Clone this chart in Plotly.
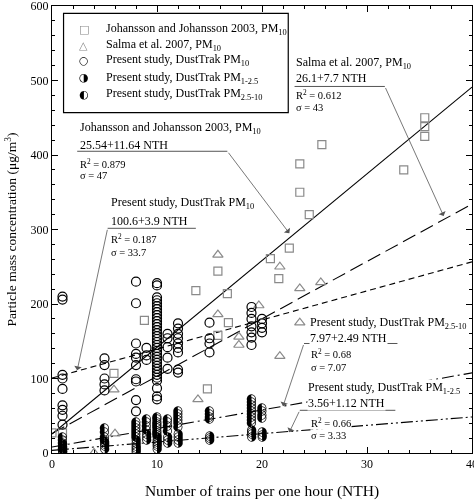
import plotly.graph_objects as go

FONT = "Liberation Serif"
GRAY = "#8a8a8a"

# Johansson and Johansson 2003, PM10 (open squares)
johansson_nth = [0, 1, 5.9, 8.8, 13.7, 14.8, 15.8, 15.8, 16.7, 16.8, 20.8, 21.6,
                 22.6, 23.6, 23.6, 24.5, 25.7, 33.5, 35.5, 35.5, 35.5]
johansson_pm = [27, 27, 107, 178, 218, 86, 244, 158, 214, 175, 261, 234,
                275, 350, 388, 320, 414, 380, 450, 438, 425]

# Salma et al. 2007, PM10 (open triangles)
salma_nth = [4, 5.9, 6, 13.9, 15.8, 15.8, 17.8, 17.8, 19.7, 21.7, 21.7, 23.6, 23.6, 25.6]
salma_pm = [0, 85, 26, 72, 266, 186, 156, 145, 198, 250, 130, 221, 175, 229]

# Present study, DustTrak - columns of values per NTH
study_nth = [1, 5, 8, 9, 10, 11, 12, 15, 19, 20]
pm10_values = [
    [210, 206, 105, 100, 86, 64, 58, 50, 38],
    [127, 118, 100, 92, 84],
    [230, 201, 147, 133, 128, 118, 99, 96, 71, 56],
    [141, 131, 125],
    [228, 225, 209, 205, 201, 197, 193, 189, 185, 181, 177, 173, 169, 165, 161, 157,
     153, 149, 145, 141, 137, 133, 129, 125, 121, 117, 113, 109, 105, 101, 97, 87, 76, 72],
    [160, 154, 142, 128, 113],
    [174, 167, 160, 154, 147, 141, 135, 112, 108],
    [175, 154, 147, 135],
    [196, 188, 180, 170, 162, 155, 145],
    [180, 174, 168, 162],
]
pm25_10_values = [
    [22, 17, 13, 9, 5],
    [34, 28, 22, 17],
    [42, 38, 34, 30, 26, 22],
    [46, 41, 36, 31],
    [48, 45, 42, 39, 36, 33, 30, 27, 24],
    [46, 41, 36, 30],
    [56, 52, 48, 44, 40, 35],
    [57, 53, 49, 45],
    [72, 68, 64, 60, 56, 52, 48, 44, 40],
    [60, 56, 51, 47],
]
pm1_25_values = [
    [12, 8, 5, 3, 1],
    [15, 12, 9, 6],
    [18, 14, 10, 7, 4, 1],
    [26, 21, 17],
    [21, 18, 15, 12, 9, 6],
    [22, 17, 13],
    [26, 21, 17, 13],
    [23, 20, 17],
    [31, 28, 25, 22],
    [28, 24, 21],
]

# fitted lines: intercept + slope * NTH
fit_names = ["Johansson", "Salma", "PM10", "PM2.5-10", "PM1-2.5"]
fit_intercept = [25.54, 26.1, 100.6, 7.97, 3.56]
fit_slope = [11.64, 7.7, 3.9, 2.49, 1.12]
fit_dash = ["solid", "14px,6px", "6px,4px", "12px,4px,2px,4px", "12px,3px,2px,3px,2px,3px"]
nth_range = [0, 40]


def flatten(xs, cols):
    fx, fy = [], []
    for x, col in zip(xs, cols):
        for v in col:
            fx.append(x)
            fy.append(v)
    return fx, fy


fig = go.Figure()

for name, a, b, dash in zip(fit_names, fit_intercept, fit_slope, fit_dash):
    fig.add_trace(go.Scatter(x=nth_range, y=[a + b * x for x in nth_range], mode="lines",
                             name=name, line=dict(color="black", width=1.1, dash=dash)))

fig.add_trace(go.Scatter(x=johansson_nth, y=johansson_pm, mode="markers",
                         marker=dict(symbol="square-open", size=8, color=GRAY, line=dict(width=1.2))))
fig.add_trace(go.Scatter(x=salma_nth, y=salma_pm, mode="markers",
                         marker=dict(symbol="triangle-up-open", size=9, color=GRAY, line=dict(width=1.2))))

x10, y10 = flatten(study_nth, pm10_values)
fig.add_trace(go.Scatter(x=x10, y=y10, mode="markers",
                         marker=dict(symbol="circle-open", size=9, color="black", line=dict(width=1.2))))

# half-filled circles drawn as glyphs
xc, yc = flatten(study_nth, pm25_10_values)
fig.add_trace(go.Scatter(x=xc, y=yc, mode="text", text=["\u25d0"] * len(xc),
                         textfont=dict(family="DejaVu Sans", size=12, color="black")))
xf, yf = flatten(study_nth, pm1_25_values)
fig.add_trace(go.Scatter(x=xf, y=yf, mode="text", text=["\u25d1"] * len(xf),
                         textfont=dict(family="DejaVu Sans", size=12, color="black")))

annotations = []
shapes = []


def label(x, y, text, size=12, bg=None):
    annotations.append(dict(x=x, y=y, xref="x", yref="y", text=text, showarrow=False,
                            xanchor="left", yanchor="middle", borderpad=0,
                            bgcolor=bg if bg else "rgba(0,0,0,0)",
                            font=dict(family=FONT, size=size, color="black")))


def leader(x0, x1, y, tipx, tipy, start_left=False):
    shapes.append(dict(type="line", xref="x", yref="y", x0=x0, x1=x1, y0=y, y1=y,
                       line=dict(color="#555", width=1)))
    sx = x0 if start_left else x1
    annotations.append(dict(x=tipx, y=tipy, ax=sx, ay=y, xref="x", yref="y", axref="x", ayref="y",
                            text="", showarrow=True, arrowhead=1, arrowsize=1.6, arrowwidth=0.8,
                            arrowcolor="#555", standoff=0))


# Salma et al. label
label(23.1, 524, "Salma et al. 2007, PM<sub>10</sub>")
label(23.1, 504, "26.1+7.7 NTH")
label(23.1, 481, "R<sup>2</sup> = 0.612", 10.5)
label(23.1, 464, "\u03c3 = 43", 10.5)
leader(23.1, 31.7, 492, 37.3, 318)

# Johansson label
label(2.6, 436, "Johansson and Johansson 2003, PM<sub>10</sub>")
label(2.6, 414, "25.54+11.64 NTH")
label(2.6, 389, "R<sup>2</sup> = 0.879", 10.5)
label(2.6, 372, "\u03c3 = 47", 10.5)
leader(2.4, 16.7, 405, 22.6, 295)

# Present PM10 label
label(5.5, 335, "Present study, DustTrak PM<sub>10</sub>")
label(5.5, 312, "100.6+3.9 NTH")
label(5.5, 288, "R<sup>2</sup> = 0.187", 10.5)
label(5.5, 269, "\u03c3 = 33.7", 10.5)
leader(5.3, 13.7, 301.6, 2.4, 111, start_left=True)

# Present PM2.5-10 label
label(24.5, 175, "Present study, DustTrak PM<sub>2.5-10</sub>", bg="white")
label(24.5, 155, "7.97+2.49 NTH", bg="white")
label(24.6, 134, "R<sup>2</sup> = 0.68", 10.5, bg="white")
label(24.6, 115, "\u03c3 = 7.07", 10.5, bg="white")
leader(24.0, 32.9, 147, 22.0, 62.7, start_left=True)

# Present PM1-2.5 label
label(24.3, 87, "Present study, DustTrak PM<sub>1-2.5</sub>", bg="white")
label(24.3, 67, "3.56+1.12 NTH", bg="white")
label(24.6, 41, "R<sup>2</sup> = 0.66", 10.5, bg="white")
label(24.6, 24, "\u03c3 = 3.33", 10.5, bg="white")
leader(23.6, 32.7, 57.3, 22.6, 27.8, start_left=True)

# legend box
shapes.append(dict(type="rect", xref="x", yref="y", x0=1.1, x1=22.5, y0=457, y1=590,
                   line=dict(color="black", width=1.2), fillcolor="white", layer="above"))
legend_glyphs = ["\u25a1", "\u25b3", "\u25cb", "\u25d1", "\u25d0"]
legend_colors = [GRAY, GRAY, "black", "black", "black"]
legend_texts = ["Johansson and Johansson 2003, PM<sub>10</sub>",
                "Salma et al. 2007, PM<sub>10</sub>",
                "Present study, DustTrak PM<sub>10</sub>",
                "Present study, DustTrak PM<sub>1-2.5</sub>",
                "Present study, DustTrak PM<sub>2.5-10</sub>"]
legend_rows = [568.6, 547, 527, 504, 481.5]
for g, c, t, yy in zip(legend_glyphs, legend_colors, legend_texts, legend_rows):
    annotations.append(dict(x=3.0, y=yy, xref="x", yref="y", text=g, showarrow=False,
                            xanchor="center", yanchor="middle",
                            font=dict(family="DejaVu Sans", size=11, color=c)))
    label(5.0, yy, t)

axis_common = dict(showline=True, linecolor="black", linewidth=1, mirror="allticks",
                   ticks="inside", ticklen=6, tickcolor="black", showgrid=False, zeroline=False,
                   automargin=False, ticklabeloverflow="allow",
                   tickfont=dict(family=FONT, size=12, color="black"))

fig.update_layout(
    width=474, height=500,
    margin=dict(l=52, r=2, t=6, b=47),
    paper_bgcolor="white", plot_bgcolor="white",
    showlegend=False,
    font=dict(family=FONT, color="black"),
    annotations=annotations,
    shapes=shapes,
    xaxis=dict(range=[0, 40], dtick=10,
               minor=dict(ticks="inside", ticklen=3, dtick=2, tickcolor="black"),
               title=dict(text="Number of trains per one hour (NTH)",
                          font=dict(family=FONT, size=15.5), standoff=15),
               **axis_common),
    yaxis=dict(range=[0, 600], dtick=100,
               minor=dict(ticks="inside", ticklen=3, dtick=20, tickcolor="black"),
               title=dict(text="Particle mass concentration (\u03bcg/m<sup>3</sup>)",
                          font=dict(family=FONT, size=13.5), standoff=10),
               **axis_common),
)

# drop the default page margin so the 474x500 figure fills the window;
# the chart is greyscale, so a grey filter also removes coloured glyph fringes
fig.write_html("out.html", config={"displayModeBar": False},
               post_script="document.body.style.margin='0';document.body.style.overflow='hidden';"
                           "document.body.style.filter='grayscale(1)';")
